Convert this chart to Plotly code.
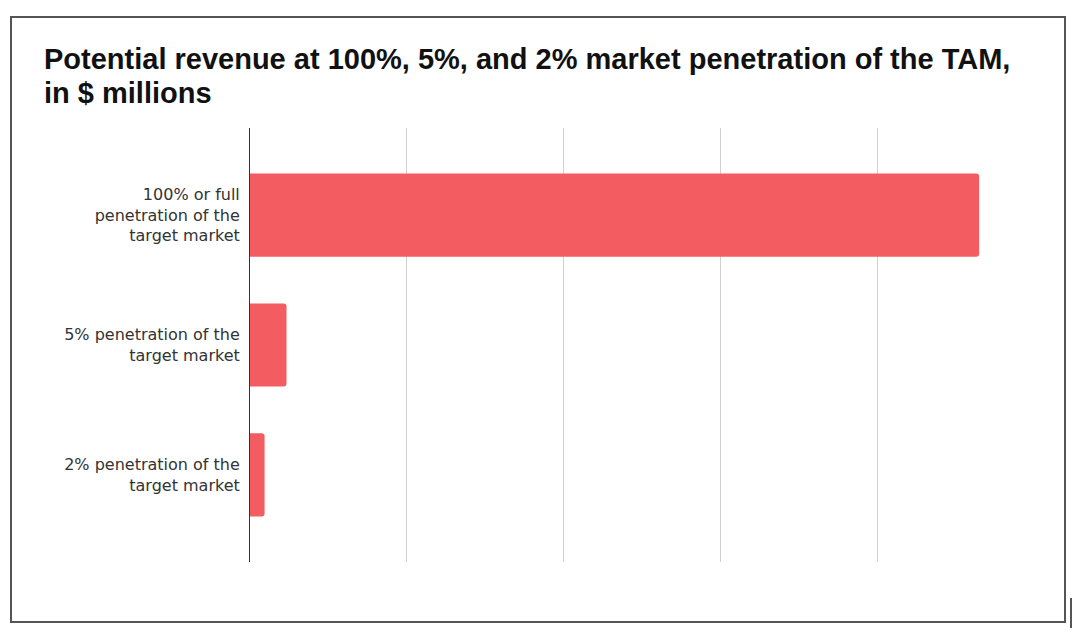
import plotly.graph_objects as go

categories = [
    "100% or full<br>penetration of the<br>target market",
    "5% penetration of the<br>target market",
    "2% penetration of the<br>target market",
]
revenue = [465.0, 23.3, 9.3]
title_lines = [
    "Potential revenue at 100%, 5%, and 2% market penetration of the TAM,",
    "in $ millions",
]

fig = go.Figure()
fig.add_trace(go.Bar(
    y=categories, x=revenue, orientation="h",
    marker=dict(color="#f35c60", line=dict(width=0)),
    width=0.64,
))

L, R, T, B = 250, 46, 128, 76
W, H = 1080, 638
pw = W - L - R
ph = H - T - B

def px_x(p):
    return (p - L) / pw

def px_y(p):
    return (H - B - p) / ph

annotations = []
for i, (line, ymid) in enumerate(zip(title_lines, [59, 93])):
    annotations.append(dict(
        text="<b>" + line + "</b>", showarrow=False,
        xref="paper", yref="paper",
        x=px_x(42), xanchor="left",
        y=px_y(ymid), yanchor="middle",
        font=dict(family="Liberation Sans, Arial, sans-serif", size=29, color="#111111"),
    ))

fig.update_layout(
    width=W, height=H,
    margin=dict(l=L, r=R, t=T, b=B),
    paper_bgcolor="white", plot_bgcolor="white",
    barcornerradius=3,
    showlegend=False,
    font=dict(family="DejaVu Sans, sans-serif", color="#333333", size=16),
    annotations=annotations,
    xaxis=dict(
        range=[0, 500], dtick=100, showticklabels=False,
        showgrid=True, gridcolor="#d0d0d0", gridwidth=1,
        zeroline=False, showline=False, ticks="",
    ),
    yaxis=dict(
        categoryorder="array", categoryarray=categories,
        autorange=False, range=[2.67, -0.67],
        showline=True, linecolor="#333333", linewidth=1,
        showgrid=False, ticks="", ticklabelstandoff=6,
        tickfont=dict(family="DejaVu Sans, sans-serif", size=16, color="#333333"),
    ),
    shapes=[
        dict(type="rect", xref="paper", yref="paper",
             x0=px_x(11), x1=px_x(1065), y0=px_y(622), y1=px_y(17),
             line=dict(color="#555555", width=2), fillcolor="rgba(0,0,0,0)"),
        dict(type="line", xref="paper", yref="paper",
             x0=px_x(1071), x1=px_x(1071), y0=px_y(628), y1=px_y(598),
             line=dict(color="#555555", width=2)),
    ],
)

fig.write_html("out.html")
